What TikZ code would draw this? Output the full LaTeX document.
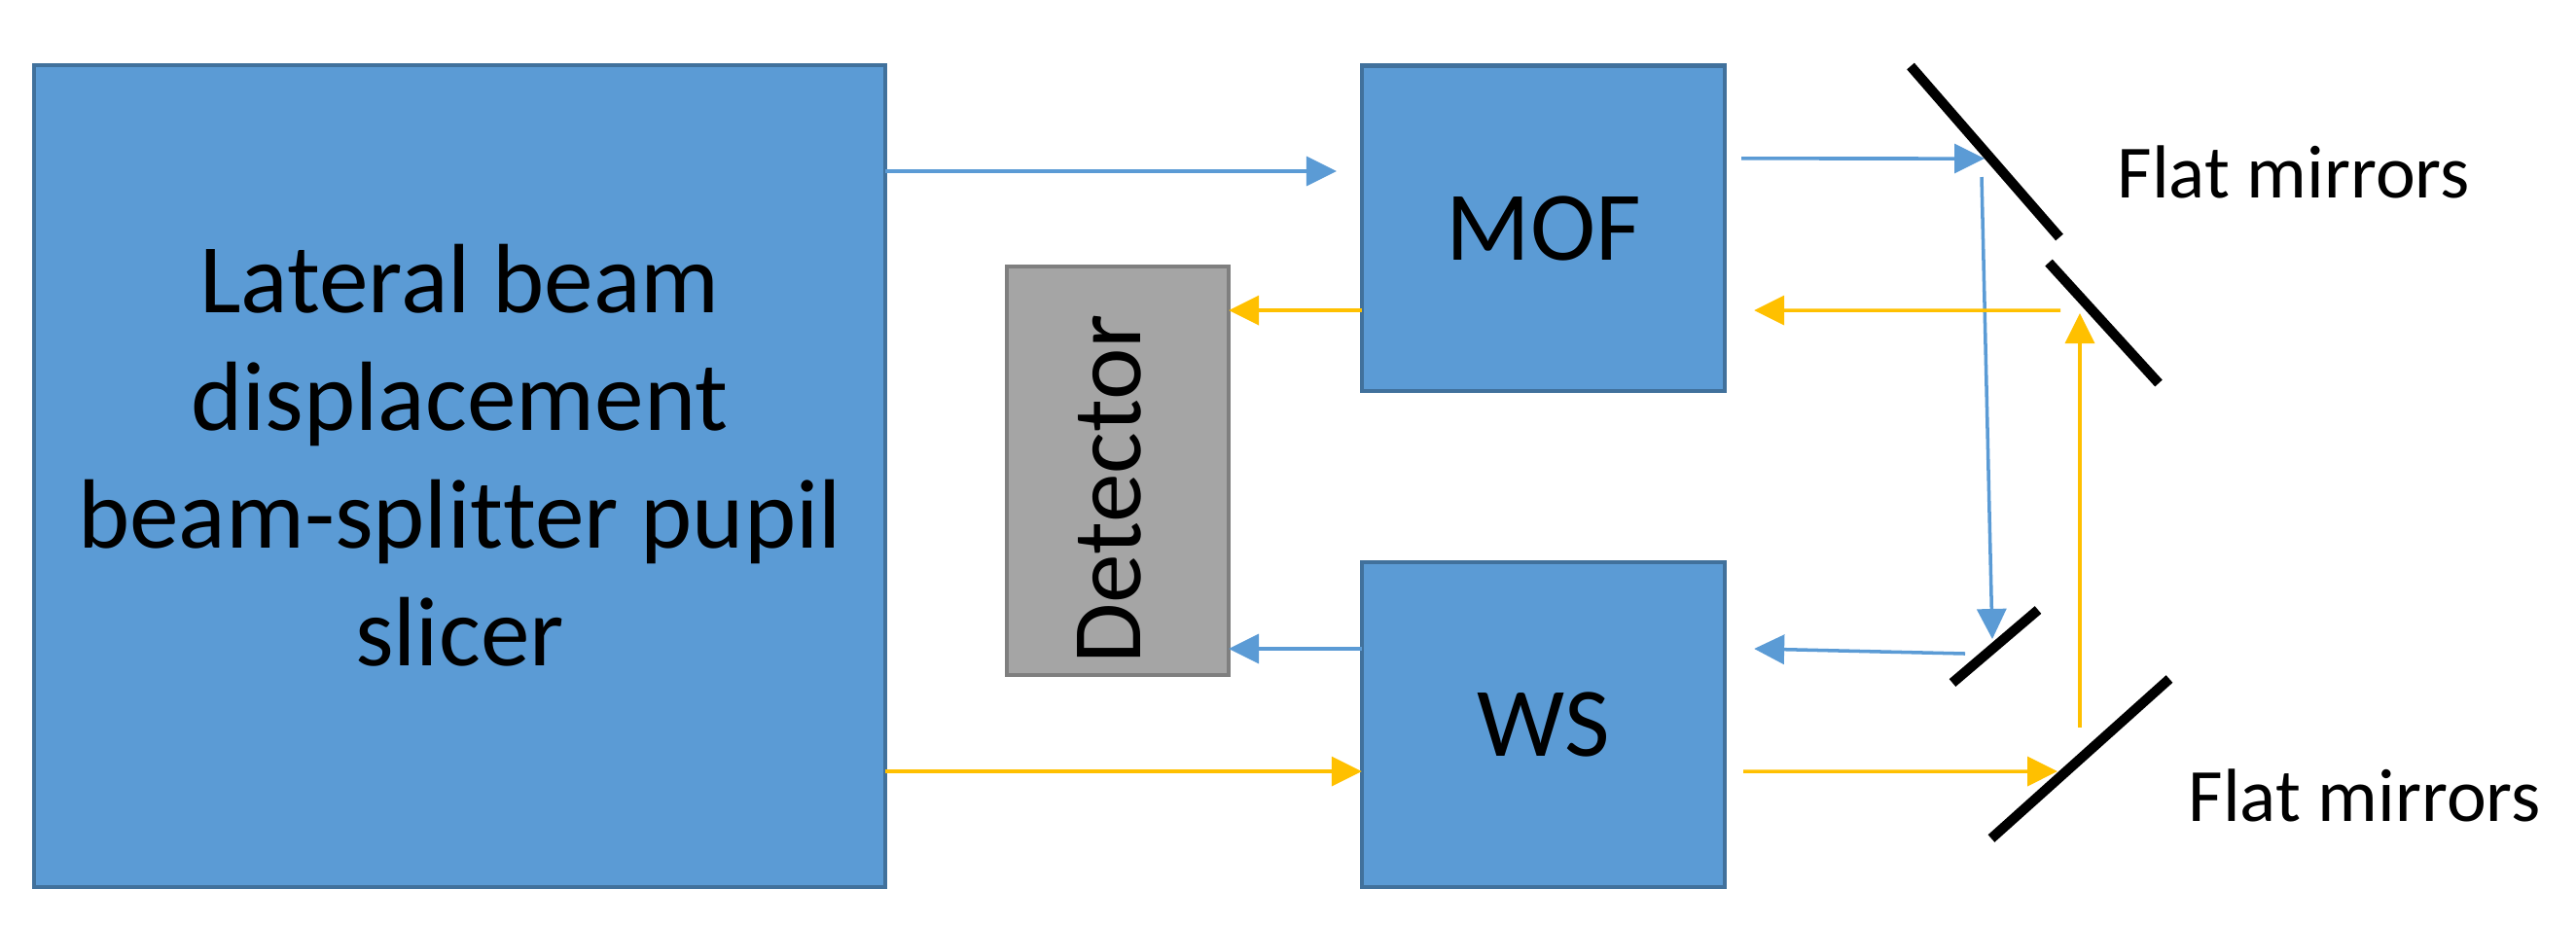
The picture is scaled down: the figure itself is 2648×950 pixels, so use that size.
\documentclass[tikz,border=0pt]{standalone}
\usepackage{fontspec}
\setmainfont[Ligatures=NoCommon]{Carlito}
\usetikzlibrary{arrows.meta,calc}
\definecolor{boxblue}{HTML}{5B9BD5}
\definecolor{boxedge}{HTML}{41719C}
\definecolor{detgray}{HTML}{A5A5A5}
\definecolor{detedge}{HTML}{7F7F7F}
\definecolor{beamblue}{HTML}{5B9BD5}
\definecolor{beamyellow}{HTML}{FFC000}
\begin{document}
\begin{tikzpicture}[x=0.01cm,y=-0.01cm,
  bluebox/.style={draw=boxedge,fill=boxblue,line width=1.2pt,inner sep=0,outer sep=0},
  detbox/.style={draw=detedge,fill=detgray,line width=1.2pt,inner sep=0,outer sep=0},
  bigfont/.style={font=\fontsize{28.8}{34.4}\selectfont},
  labfont/.style={font=\fontsize{22}{26}\selectfont},
  beamb/.style={draw=beamblue,line width=1pt,-{Triangle[length=3.1mm,width=3mm]}},
  beamy/.style={draw=beamyellow,line width=1pt,-{Triangle[length=3.1mm,width=3mm]}},
  mirror/.style={line width=2.9pt,black},
]
\useasboundingbox (0,0) rectangle (2648,950);
% boxes
\node[bluebox,minimum width=8.75cm,minimum height=8.45cm] (big) at (472.5,489.5) {};
\node[bigfont,align=center,inner sep=0] (bigtxt) at (472.5,468) {Lateral beam\\displacement\\beam-split\kern0pt ter pupil\\slicer};
\node[bluebox,minimum width=3.73cm,minimum height=3.34cm,bigfont] (mof) at (1586.5,234.5) {MOF};
\node[bluebox,minimum width=3.73cm,minimum height=3.34cm,bigfont] (ws) at (1586.5,745) {WS};
\node[detbox,minimum width=2.28cm,minimum height=4.2cm] (det) at (1149,484) {};
\node[bigfont,rotate=90,inner sep=0] (dettxt) at (1140,503) {Detector};
% mirror ends and beam points
\coordinate (m1a) at (1964,68);
\coordinate (m1b) at (2117,244);
\coordinate (m2a) at (2106,270);
\coordinate (m2b) at (2219,394);
\coordinate (m3a) at (2007,702);
\coordinate (m3b) at (2095,627);
\coordinate (m4a) at (2047,862);
\coordinate (m4b) at (2230,698);
\coordinate (b1) at (2040,163);
\coordinate (b1s) at (2037,182);
\coordinate (b2) at (2048,657);
\coordinate (b2s) at (2020,672);
\coordinate (y1) at (2115,793);
\coordinate (y1s) at (2138,748);
\coordinate (y2) at (2138,322);
\coordinate (y2s) at (2118,319);
\coordinate (mofin) at ([xshift=-0.26cm,yshift=0.585cm]mof.west);
\coordinate (mofout) at ([yshift=-0.845cm]mof.west);
\coordinate (wsin) at ([yshift=-0.48cm]ws.west);
\coordinate (wsout) at ([yshift=0.78cm]ws.west);
% beams
\draw[beamb] (mofin -| big.east) -- (mofin);
\draw[beamb] ([xshift=0.17cm,yshift=0.715cm]mof.east) -- (b1);
\draw[beamb] (b1s) -- (b2);
\draw[beamb] (b2s) -- ([xshift=0.30cm,yshift=0.78cm]ws.east);
\draw[beamb] (wsout) -- (wsout -| det.east);
\draw[beamy] (wsin -| big.east) -- (wsin);
\draw[beamy] ([xshift=0.19cm,yshift=-0.48cm]ws.east) -- (y1);
\draw[beamy] (y1s) -- (y2);
\draw[beamy] (y2s) -- ([xshift=0.30cm,yshift=-0.845cm]mof.east);
\draw[beamy] (mofout) -- (mofout -| det.east);
% mirrors
\draw[mirror] (m1a) -- (m1b);
\draw[mirror] (m2a) -- (m2b);
\draw[mirror] (m3a) -- (m3b);
\draw[mirror] (m4a) -- (m4b);
% labels
\node[labfont,anchor=base west,inner sep=0] (fm1) at (2176,203) {Flat mirrors};
\node[labfont,anchor=base west,inner sep=0] (fm2) at (2249,844) {Flat mirrors};
\end{tikzpicture}
\end{document}
